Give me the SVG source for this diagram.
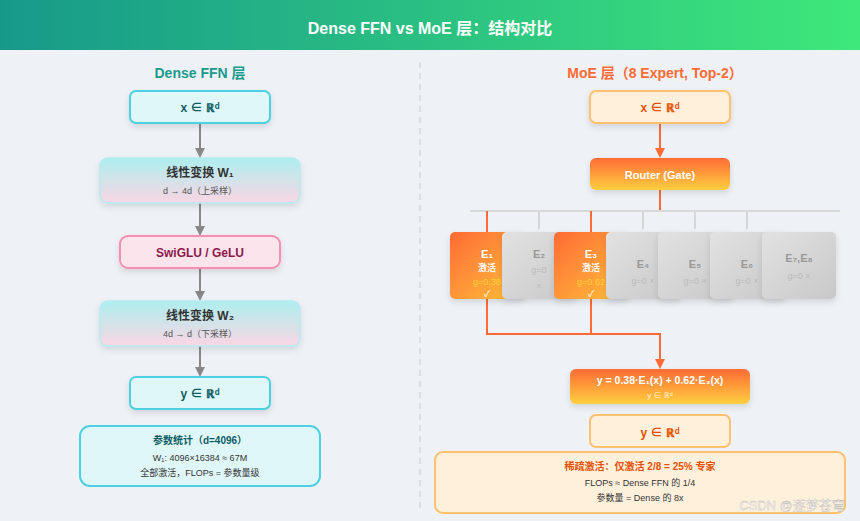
<svg xmlns="http://www.w3.org/2000/svg" width="860" height="521" viewBox="0 0 860 521">
<defs>
<linearGradient id="hdr" x1="0" x2="1"><stop offset="0" stop-color="#17998a"/><stop offset="1" stop-color="#3ee87a"/></linearGradient>
<linearGradient id="lin" x1="0" y1="0" x2="0" y2="1"><stop offset="0" stop-color="#aeeeee"/><stop offset="1" stop-color="#f9d6e4"/></linearGradient>
<linearGradient id="org" x1="0" y1="0" x2="0" y2="1"><stop offset="0" stop-color="#ff6b35"/><stop offset="1" stop-color="#ffcf3e"/></linearGradient>
<linearGradient id="orgd" x1="0" y1="0" x2="1" y2="1"><stop offset="0" stop-color="#ff6b35"/><stop offset="1" stop-color="#ffc13a"/></linearGradient>
<linearGradient id="gry" x1="0" y1="0" x2="1" y2="1"><stop offset="0" stop-color="#e2e2e2"/><stop offset="1" stop-color="#c8c8c8"/></linearGradient>
<marker id="ag" markerWidth="10" markerHeight="10" refX="8" refY="5" orient="auto" markerUnits="userSpaceOnUse"><path d="M0,0 L10,5 L0,10 z" fill="#888"/></marker>
<marker id="ao" markerWidth="10" markerHeight="10" refX="8" refY="5" orient="auto" markerUnits="userSpaceOnUse"><path d="M0,0 L10,5 L0,10 z" fill="#ff6b35"/></marker>
<filter id="sh" x="-20%" y="-20%" width="140%" height="150%"><feDropShadow dx="0" dy="3" stdDeviation="3" flood-color="#000" flood-opacity="0.12"/></filter>
</defs>
<style>
text{font-family:"Liberation Sans","Noto Sans CJK SC",sans-serif;text-anchor:middle}
.b{font-weight:bold}
.gl{stroke:#888;stroke-width:2;fill:none}
.ol{stroke:#ff6b35;stroke-width:2;fill:none}
.gr{stroke:#d8d8d8;stroke-width:2;fill:none}
.cy{fill:#e0f7fa;stroke:#4dd0e1;stroke-width:2}
.ln{fill:url(#lin);stroke:#b2ebf2;stroke-width:1.5}
.cr{fill:#fff0dc;stroke:#ffc070;stroke-width:2}
.gx{fill:url(#gry)}
.gt{fill:#999;font-size:11px;font-weight:bold}
.gs{fill:#bbb;font-size:9px}
</style>
<rect width="860" height="521" fill="#eef2f7"/>
<rect width="860" height="50" fill="url(#hdr)"/>
<text x="430" y="34" font-size="16" class="b" fill="#fff">Dense FFN vs MoE 层：结构对比</text>
<line x1="420" y1="62" x2="420" y2="512" stroke="#d5d9de" stroke-width="1.5" stroke-dasharray="6,5"/>
<text x="200" y="78" font-size="14" class="b" fill="#1a9a8a">Dense FFN 层</text>
<text x="655" y="78" font-size="14" class="b" fill="#ff6b35">MoE 层（8 Expert, Top-2）</text>

<g id="connectors">
<line class="gl" x1="200" y1="123" x2="200" y2="156" marker-end="url(#ag)"/>
<line class="gl" x1="200" y1="203" x2="200" y2="234" marker-end="url(#ag)"/>
<line class="gl" x1="200" y1="268" x2="200" y2="299" marker-end="url(#ag)"/>
<line class="gl" x1="200" y1="346" x2="200" y2="375" marker-end="url(#ag)"/>
<line class="ol" x1="660" y1="123" x2="660" y2="156" marker-end="url(#ao)"/>
<line class="ol" x1="660" y1="190" x2="660" y2="211"/>
<line class="gr" x1="470" y1="211" x2="840" y2="211"/>
<line class="gr" x1="539" y1="211" x2="539" y2="229"/>
<line class="gr" x1="643" y1="211" x2="643" y2="229"/>
<line class="gr" x1="695" y1="211" x2="695" y2="229"/>
<line class="gr" x1="747" y1="211" x2="747" y2="229"/>
<line class="ol" x1="487" y1="211" x2="487" y2="232"/>
<line class="ol" x1="591" y1="211" x2="591" y2="232"/>
<path class="ol" d="M487,299 V334 H660 V367" marker-end="url(#ao)"/>
<line class="ol" x1="591" y1="299" x2="591" y2="334"/>
</g>

<g id="dx"><rect x="130" y="91" width="140" height="32" rx="6" class="cy" filter="url(#sh)"/><text x="200" y="112" font-size="12" class="b" fill="#0d5c63">x ∈ ℝᵈ</text></g>
<g id="w1"><rect x="100" y="158" width="200" height="45" rx="8" class="ln" filter="url(#sh)"/><text x="200" y="177" font-size="12" class="b" fill="#333">线性变换 W₁</text><text x="200" y="194" font-size="9" fill="#555">d → 4d（上采样）</text></g>
<g id="act"><rect x="120" y="236" width="160" height="32" rx="8" fill="#fce4ec" stroke="#f48fb1" stroke-width="2" filter="url(#sh)"/><text x="200" y="257" font-size="12" class="b" fill="#8b1a4a">SwiGLU / GeLU</text></g>
<g id="w2"><rect x="100" y="301" width="200" height="45" rx="8" class="ln" filter="url(#sh)"/><text x="200" y="320" font-size="12" class="b" fill="#333">线性变换 W₂</text><text x="200" y="337" font-size="9" fill="#555">4d → d（下采样）</text></g>
<g id="dy"><rect x="130" y="377" width="140" height="32" rx="6" class="cy" filter="url(#sh)"/><text x="200" y="398" font-size="12" class="b" fill="#0d5c63">y ∈ ℝᵈ</text></g>
<g id="stats"><rect x="80" y="426" width="240" height="60" rx="10" class="cy"/><text x="200" y="444" font-size="10" class="b" fill="#0d5c63">参数统计（d=4096）</text><text x="200" y="461" font-size="9" fill="#333">W₁: 4096×16384 ≈ 67M</text><text x="200" y="476" font-size="9" fill="#333">全部激活，FLOPs = 参数量级</text></g>

<g id="mx"><rect x="590" y="91" width="140" height="32" rx="6" class="cr" filter="url(#sh)"/><text x="660" y="112" font-size="12" class="b" fill="#e65100">x ∈ ℝᵈ</text></g>
<g id="router"><rect x="590" y="158" width="140" height="32" rx="6" fill="url(#org)" filter="url(#sh)"/><text x="660" y="179" font-size="11" class="b" fill="#fff">Router (Gate)</text></g>

<g id="e1"><rect x="450" y="232" width="75" height="67" rx="5" fill="url(#orgd)" filter="url(#sh)"/><text x="487" y="258" font-size="11" class="b" fill="#fff">E₁</text><text x="487" y="271" font-size="9" class="b" fill="#fff">激活</text><text x="487" y="285" font-size="9" fill="#ffd23a">g=0.38</text><text x="487" y="297" font-size="9" fill="#fff">✓</text></g>
<g id="e2"><rect x="502" y="232" width="75" height="67" rx="5" class="gx" filter="url(#sh)"/><text x="539" y="258" class="gt">E₂</text><text x="539" y="273" class="gs">g=0</text><text x="539" y="289" class="gs">×</text></g>
<g id="e3"><rect x="554" y="232" width="75" height="67" rx="5" fill="url(#orgd)" filter="url(#sh)"/><text x="591" y="258" font-size="11" class="b" fill="#fff">E₃</text><text x="591" y="271" font-size="9" class="b" fill="#fff">激活</text><text x="591" y="285" font-size="9" fill="#ffd23a">g=0.62</text><text x="591" y="297" font-size="9" fill="#fff">✓</text></g>
<g id="e4"><rect x="606" y="232" width="75" height="67" rx="5" class="gx" filter="url(#sh)"/><text x="643" y="268" class="gt">E₄</text><text x="643" y="284" class="gs">g=0 ×</text></g>
<g id="e5"><rect x="658" y="232" width="75" height="67" rx="5" class="gx" filter="url(#sh)"/><text x="695" y="268" class="gt">E₅</text><text x="695" y="284" class="gs">g=0 ×</text></g>
<g id="e6"><rect x="710" y="232" width="75" height="67" rx="5" class="gx" filter="url(#sh)"/><text x="747" y="268" class="gt">E₆</text><text x="747" y="284" class="gs">g=0 ×</text></g>
<g id="e78"><rect x="762" y="232" width="74" height="67" rx="5" class="gx" filter="url(#sh)"/><text x="799" y="262" class="gt">E₇,E₈</text><text x="799" y="279" class="gs">g=0 ×</text></g>

<g id="sum"><rect x="570" y="369" width="180" height="35" rx="6" fill="url(#org)" filter="url(#sh)"/><text x="660" y="384" font-size="10.5" class="b" fill="#fff">y = 0.38·E₁(x) + 0.62·E₃(x)</text><text x="660" y="398" font-size="8" fill="#fff4d0">y ∈ ℝᵈ</text></g>
<g id="my"><rect x="590" y="415" width="140" height="32" rx="6" class="cr"/><text x="660" y="437" font-size="12" class="b" fill="#e65100">y ∈ ℝᵈ</text></g>
<g id="sparse"><rect x="435" y="452" width="410" height="61" rx="8" class="cr"/><text x="640" y="470" font-size="10" class="b" fill="#e65100">稀疏激活：仅激活 2/8 = 25% 专家</text><text x="640" y="486" font-size="9" fill="#333">FLOPs ≈ Dense FFN 的 1/4</text><text x="640" y="501" font-size="9" fill="#333">参数量 = Dense 的 8x</text></g>
<text x="792" y="510" font-size="13" fill="#fff" fill-opacity="0.85" stroke="#bbb" stroke-width="0.4">CSDN @逐梦苍穹</text>
</svg>
